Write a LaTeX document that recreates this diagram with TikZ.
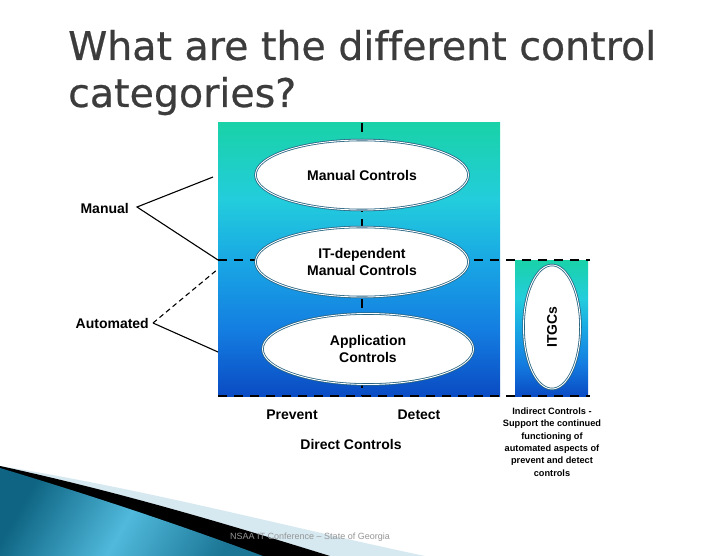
\documentclass[tikz,border=0pt]{standalone}
\usepackage{fontspec}
\setmainfont{Liberation Sans}
\newfontfamily\titlefont[FakeBold=0.6,Ligatures=NoCommon]{DejaVu Sans}
\usetikzlibrary{shapes.geometric}
\definecolor{titlegray}{RGB}{60,60,60}
\definecolor{ellline}{RGB}{40,100,130}
\definecolor{footgray}{RGB}{150,150,150}
\definecolor{swdark}{RGB}{14,100,130}
\definecolor{swlight}{RGB}{80,185,220}
\definecolor{swpale}{RGB}{214,232,240}
\definecolor{gA}{RGB}{10,75,195}
\definecolor{gB}{RGB}{20,125,225}
\definecolor{gC}{RGB}{25,168,228}
\definecolor{gD}{RGB}{35,205,220}
\definecolor{gE}{RGB}{25,210,168}
\pgfdeclareverticalshading{boxgrad}{100bp}{%
  color(0bp)=(gA);
  color(25bp)=(gA);
  color(37bp)=(gB);
  color(50bp)=(gC);
  color(61bp)=(gD);
  color(75bp)=(gE);
  color(100bp)=(gE)}
\tikzset{
  lbl/.style={font=\bfseries\fontsize{14}{17}\selectfont, align=center, inner sep=0},
  oval/.style={ellipse, fill=white, draw=ellline, line width=0.8pt, double=white, double distance=0.9pt, inner sep=0, lbl},
  dashline/.style={line width=2.8pt, dash pattern=on 9pt off 7pt},
  brace/.style={line width=1.1pt},
}
\begin{document}
\begin{tikzpicture}[x=1pt,y=-1pt]
\useasboundingbox (0,0) rectangle (720,556);
\fill[white] (0,0) rectangle (720,556);
% title
\node[anchor=base west, inner sep=0, text=titlegray, font=\titlefont\fontsize{39.5}{47}\selectfont] (t1) at (68,60) {What are the different control};
\node[anchor=base west, inner sep=0, text=titlegray, font=\titlefont\fontsize{39.5}{47}\selectfont] (t2) at (68,107) {categories?};
% bottom-left swoosh
\fill[swpale] (0,466) .. controls (150,490) and (300,530) .. (425,556) -- (0,556) -- cycle;
\fill[black] (0,466) .. controls (120,492) and (230,525) .. (330,556) -- (0,556) -- cycle;
\shade[left color=swdark, right color=swdark!80!swlight, middle color=swlight, shading angle=60]
  (0,468) .. controls (90,495) and (180,525) .. (263,556) -- (0,556) -- cycle;
\node[text=footgray, font=\fontsize{9}{11}\selectfont, inner sep=0] (foot) at (310,537) {NSAA IT Conference – State of Georgia};
% main box and ITGC box
\shade[shading=boxgrad] (218,123) rectangle (500,396);
\shade[shading=boxgrad] (515,260) rectangle (588,396);
\coordinate (vtop) at (362,123);
\coordinate (vbot) at (362,396);
\coordinate (hl) at (218,260);
\coordinate (hr) at (590,260);
\coordinate (bl) at (218,396);
\coordinate (br) at (590,396);
\draw[dashline] (vtop) -- (vbot);
\draw[dashline] (hl) -- (hr);
\draw[dashline] (bl) -- (br);
% ellipses
\node[oval, minimum width=213pt, minimum height=70pt] (mc) at (362,175) {Manual Controls};
\node[oval, minimum width=213pt, minimum height=70pt] (itd) at (362,262) {IT-dependent\\Manual Controls};
\node[oval, minimum width=211pt, minimum height=71pt] (app) at (368,349) {Application\\Controls};
\node[oval, minimum width=57pt, minimum height=124pt] (itgc) at (552,327) {};
\node[lbl, rotate=90] (itgct) at (itgc.center) {ITGCs};
% left brackets
\node[lbl, anchor=east] (man) at (129,208) {Manual};
\node[lbl, anchor=east] (aut) at (149,323) {Automated};
\coordinate (mtip) at (137,207);
\coordinate (m1) at (213,177);
\coordinate (m2) at (218,260);
\coordinate (atip) at (153,323);
\coordinate (a1) at (218,269);
\coordinate (a2) at (218,352);
\draw[brace] (m1) -- (mtip) -- (m2);
\draw[brace, dash pattern=on 5pt off 3.5pt] (atip) -- (a1);
\draw[brace] (atip) -- (a2);
% bottom labels
\node[lbl] (prev) at (292,415) {Prevent};
\node[lbl] (det) at (419,415) {Detect};
\node[lbl] (dir) at (351,444) {Direct Controls};
\node[align=center, inner sep=0, font=\bfseries\fontsize{9.2}{12.4}\selectfont] (ind) at (552,442)
  {Indirect Controls -\\Support the continued\\functioning of\\automated aspects of\\prevent and detect\\controls};
\end{tikzpicture}
\end{document}
